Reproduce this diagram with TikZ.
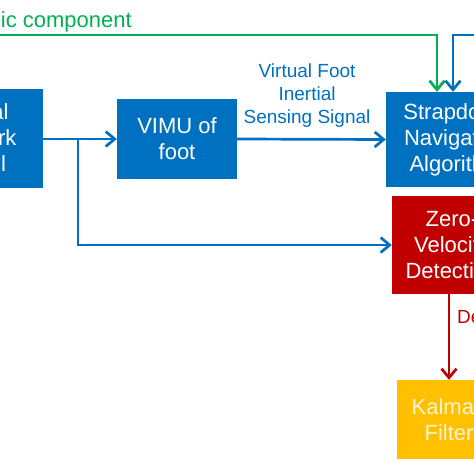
\documentclass[tikz,border=0pt]{standalone}
\usepackage{fontspec}
\setmainfont{Liberation Sans}
\usepackage{tikz}
\usetikzlibrary{arrows.meta,positioning}
\definecolor{boxblue}{HTML}{0070C0}
\definecolor{zuptred}{HTML}{C00000}
\definecolor{kalmangold}{HTML}{FFC000}
\definecolor{kalmantext}{HTML}{FFF3D1}
\definecolor{periodgreen}{HTML}{00B050}

\begin{document}
\begin{tikzpicture}[x=1pt,y=-1pt,>={Straight Barb[length=9pt,width=15pt]},
  blockbox/.style={fill=#1,draw=none,text=white,align=center,inner sep=0pt,
    font=\fontsize{22}{26}\selectfont},
  flowline/.style={->,line width=2.7pt,draw=#1},
  flowlabel/.style={text=#1,align=center,inner sep=0pt,
    font=\fontsize{19}{23}\selectfont}]
  \useasboundingbox (0,0) rectangle (474,474);
  % blocks
  \node[blockbox=boxblue,minimum width=134pt,minimum height=99pt]
    (netbox) at (-24,138) {Neural\\Network\\Model};
  \node[blockbox=boxblue,minimum width=120pt,minimum height=80pt]
    (vimu) at (177,139) {VIMU of\\foot};
  \node[blockbox=boxblue,minimum width=140pt,minimum height=95pt]
    (strap) at (456,139.5) {Strapdown\\Navigation\\Algorithm};
  \node[blockbox=zuptred,minimum width=120pt,minimum height=98pt]
    (zupt) at (452,245) {Zero-\\Velocity\\Detection};
  \node[blockbox=kalmangold,text=kalmantext,minimum width=104pt,minimum height=79pt]
    (kalman) at (449,419.5) {Kalman\\Filter};
  % free ends of the connectors
  \coordinate (split) at (78,139);
  \coordinate (greenstart) at (-5,35);
  \coordinate (bluestart) at (480,35);
  % connectors
  \draw[flowline=boxblue] (netbox.east |- vimu) -- (vimu.west);
  \draw[flowline=boxblue] (split) |- (zupt.west);
  \draw[flowline=boxblue] (vimu.east) -- (strap.west)
    node[flowlabel=boxblue,pos=0.47,above=10pt] (signal)
      {Virtual Foot\\Inertial\\Sensing Signal};
  \draw[flowline=periodgreen] (greenstart) -| ([xshift=-19pt]strap.north);
  \draw[flowline=boxblue] (bluestart) -| ([xshift=-3pt]strap.north);
  \draw[flowline=zuptred] (zupt.south -| kalman.north) -- (kalman.north);
  \node[flowlabel=periodgreen,font=\fontsize{22}{26}\selectfont,anchor=base east]
    (period) at (132,27) {Periodic component};
  \node[flowlabel=zuptred,anchor=base west] (detect) at (457,323) {Detection};
\end{tikzpicture}
\end{document}
